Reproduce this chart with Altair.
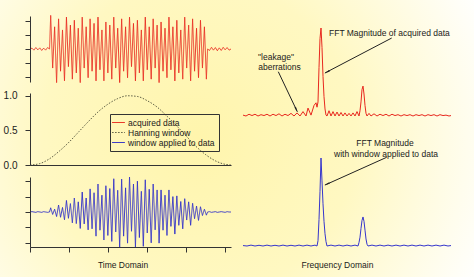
import altair as alt
import pandas as pd

FONT = "Liberation Sans"
INK = "#1a1a1a"

# ---------------- time-domain data ----------------
t_pre = [round(0.05 * i, 3) for i in range(11)]            # 0 .. 0.50
t_osc = [round(0.53 + 0.0505 * i, 4) for i in range(80)]   # 0.53 .. 4.52
t_post = [round(4.55 + 0.05 * i, 3) for i in range(13)]    # 4.55 .. 5.15

red_pre = [0.0, 0.03, -0.04, 0.05, -0.03, 0.04, -0.05, 0.03, -0.04, 0.05, 0.0]
red_osc = [
    1.18, -0.67, 0.78, -1.18, 1.06, -0.78, 0.67, -1.12, 1.12, -0.62, 0.84, -1.06,
    1.01, -0.84, 0.73, -1.18, 1.12, -0.67, 0.78, -1.01, 1.06, -0.78, 0.90, -1.12,
    1.12, -0.73, 0.67, -1.12, 0.95, -0.84, 0.84, -1.06, 1.12, -0.67, 0.73, -1.18,
    1.06, -0.78, 0.78, -1.01, 1.12, -0.62, 0.90, -1.12, 1.01, -0.84, 0.67, -1.12,
    1.12, -0.73, 0.78, -1.06, 1.06, -0.67, 0.84, -1.18, 0.95, -0.78, 0.73, -1.01,
    1.12, -0.73, 0.78, -1.12, 1.01, -0.84, 0.67, -1.06, 1.12, -0.67, 0.84, -1.12,
    1.06, -0.78, 0.73, -1.01, 1.01, -0.67, 0.78, -1.06,
]
red_post = [0.0, -0.05, 0.06, -0.04, 0.05, -0.06, 0.04, -0.05, 0.06, -0.03, 0.05, -0.04, 0.0]

blue_pre = [0.0, 0.01, 0.0, -0.01, 0.01, 0.0, -0.01, 0.01, 0.0, -0.01, 0.0]
blue_osc = [
    0.12, -0.07, 0.08, -0.13, 0.20, -0.15, 0.13, -0.22, 0.33, -0.18, 0.24, -0.31,
    0.40, -0.33, 0.29, -0.47, 0.57, -0.34, 0.40, -0.51, 0.66, -0.48, 0.55, -0.69,
    0.80, -0.52, 0.48, -0.80, 0.75, -0.67, 0.67, -0.84, 0.95, -0.57, 0.62, -1.00,
    0.94, -0.69, 0.69, -0.89, 1.00, -0.55, 0.80, -1.00, 0.88, -0.73, 0.59, -0.98,
    0.92, -0.60, 0.65, -0.88, 0.80, -0.51, 0.63, -0.89, 0.63, -0.52, 0.48, -0.67,
    0.63, -0.41, 0.44, -0.63, 0.46, -0.38, 0.30, -0.48, 0.38, -0.23, 0.29, -0.38,
    0.25, -0.19, 0.17, -0.24, 0.15, -0.10, 0.08, -0.09,
]
blue_post = [0.0, 0.01, -0.01, 0.0, 0.01, -0.01, 0.0, 0.01, 0.0, -0.01, 0.01, 0.0, 0.0]

hann_t = [0, 0.25, 0.5, 0.75, 1.0, 1.25, 1.5, 1.75, 2.0, 2.25, 2.5, 2.75, 3.0,
          3.25, 3.5, 3.75, 4.0, 4.25, 4.5, 4.75, 5.0, 5.15]
hann_w = [0.0, 0.02, 0.09, 0.2, 0.33, 0.48, 0.63, 0.77, 0.88, 0.96, 1.0, 0.99, 0.93,
          0.84, 0.71, 0.57, 0.42, 0.27, 0.15, 0.06, 0.01, 0.0]

time_ticks = [0, 1, 2, 3, 4, 5]

# ---------------- frequency-domain data ----------------
red_fft_f = [0, 3, 6, 9, 12, 15, 18, 21, 24, 27, 30, 33, 36, 39, 42, 45, 48, 51, 54, 57,
             60, 63, 65, 68, 71, 73, 74, 75, 76, 77, 78, 79, 80, 81, 82, 83, 84, 86, 88,
             90, 92, 94, 96, 98, 100, 102, 104, 106, 108, 110, 112, 114, 116, 117, 118,
             119, 120, 121, 122, 123, 124, 126, 128, 131, 134, 137, 140, 143, 146, 149,
             152, 155, 158, 161, 164, 167, 170, 173, 176, 179, 182, 185, 188, 191, 194,
             197, 200, 203, 206, 208]
red_fft_m = [0.01, 0.0, 0.02, 0.005, 0.02, 0.0, 0.015, 0.005, 0.02, 0.0, 0.02, 0.005, 0.025,
             0.0, 0.02, 0.005, 0.03, 0.0, 0.035, 0.0, 0.05, 0.0, 0.09, 0.01, 0.12, 0.15, 0.1,
             0.16, 0.55, 0.88, 1.0, 0.78, 0.45, 0.22, 0.08, 0.01, 0.0, 0.06, 0.0, 0.05, 0.0,
             0.045, 0.0, 0.04, 0.0, 0.035, 0.0, 0.03, 0.0, 0.035, 0.0, 0.05, 0.0, 0.06, 0.16,
             0.3, 0.34, 0.25, 0.12, 0.03, 0.0, 0.03, 0.0, 0.025, 0.0, 0.02, 0.005, 0.02, 0.0,
             0.02, 0.005, 0.015, 0.0, 0.015, 0.005, 0.015, 0.0, 0.015, 0.005, 0.015, 0.0,
             0.015, 0.005, 0.015, 0.0, 0.015, 0.005, 0.01, 0.0, 0.005]

blue_fft_f = [0, 4, 8, 12, 16, 20, 24, 28, 32, 36, 40, 44, 48, 52, 56, 60, 64, 68, 72, 74,
              75, 76, 77, 78, 79, 80, 81, 82, 83, 84, 88, 92, 96, 100, 104, 108, 112, 115,
              116, 117, 118, 119, 120, 121, 122, 123, 124, 125, 129, 133, 137, 141, 145,
              149, 153, 157, 161, 165, 169, 173, 177, 181, 185, 189, 193, 197, 201, 205, 208]
blue_fft_m = [0.005, 0.0, 0.01, 0.0, 0.008, 0.0, 0.01, 0.0, 0.008, 0.0, 0.01, 0.0, 0.008,
              0.0, 0.01, 0.0, 0.01, 0.0, 0.01, 0.0, 0.06, 0.3, 0.62, 1.0, 0.74, 0.48, 0.28,
              0.14, 0.05, 0.0, 0.01, 0.0, 0.01, 0.0, 0.01, 0.0, 0.01, 0.0, 0.04, 0.1, 0.2,
              0.29, 0.33, 0.28, 0.18, 0.08, 0.02, 0.0, 0.01, 0.0, 0.01, 0.0, 0.01, 0.0, 0.01,
              0.0, 0.01, 0.0, 0.01, 0.0, 0.01, 0.0, 0.01, 0.0, 0.01, 0.0, 0.01, 0.0, 0.005]

# annotations (in frequency / magnitude units)
red_left_text = ["FFT Magnitude of acquired data"]
red_left_f = [86]
red_left_m = [0.943]
red_center_text = ['"leakage"', "aberrations"]
red_center_f = [33, 36.5]
red_center_m = [0.667, 0.56]
red_arrow_f0 = [148.7, 35.3]
red_arrow_m0 = [0.886, 0.503]
red_arrow_f1 = [82, 54.3]
red_arrow_m1 = [0.489, 0.049]
red_head_f = [84.7, 53.0]
red_head_m = [0.505, 0.08]
red_head_angle = [242, 155]

blue_text = ["FFT Magnitude", "with window applied to data", "Frequency Domain"]
blue_text_f = [142, 143, 94.5]
blue_text_m = [1.167, 1.045, -0.216]
blue_arrow_f0 = [143.7]
blue_arrow_m0 = [1.008]
blue_arrow_f1 = [82]
blue_arrow_m1 = [0.693]
blue_head_f = [84.7]
blue_head_m = [0.707]
blue_head_angle = [246]

series_names = ["acquired data", "Hanning window", "window applied to data"]
series_colors = ["#e8281e", "#5e5e44", "#2c2cc8"]

# ---------------- frames ----------------
red_df = pd.DataFrame({"t": t_pre + t_osc + t_post, "v": red_pre + red_osc + red_post,
                       "series": series_names[0]})
hann_df = pd.DataFrame({"t": hann_t, "v": hann_w, "series": series_names[1]})
blue_df = pd.DataFrame({"t": t_pre + t_osc + t_post, "v": blue_pre + blue_osc + blue_post,
                        "series": series_names[2]})
rfft_df = pd.DataFrame({"f": red_fft_f, "m": red_fft_m})
bfft_df = pd.DataFrame({"f": blue_fft_f, "m": blue_fft_m})

legend = alt.Legend(orient="none", legendX=110, legendY=114, title=None,
                    symbolType="M-1.6,0H1.6", symbolSize=64, symbolStrokeWidth=1,
                    labelFont=FONT, labelFontSize=8.5, labelColor=INK, labelOffset=5,
                    padding=4, strokeColor="#333333", rowPadding=1, direction="vertical")
color_scale = alt.Scale(domain=series_names, range=series_colors)
dash_scale = alt.Scale(domain=series_names, range=[[1, 0], [1.5, 1.5], [1, 0]])


def tx():
    return alt.Scale(domain=[0, 5.15], range=[30, 231], nice=False, zero=False)


def fx():
    return alt.Scale(domain=[0, 208], range=[243, 451], nice=False, zero=False)


axis_common = dict(grid=False, title=None, domainColor="#333333", tickColor="#333333",
                   tickSize=5, zindex=2)

# background
bg = alt.Chart(pd.DataFrame({"k": [0]})).mark_rect(
    fill=alt.RadialGradient(
        gradient="radial", x1=0.42, y1=0.5, r1=0.0, x2=0.42, y2=0.5, r2=0.66,
        stops=[alt.GradientStop(offset=0, color="#fff5ac"),
               alt.GradientStop(offset=0.5, color="#fff8c2"),
               alt.GradientStop(offset=1, color="#ffffff")]),
    stroke=None,
).encode(x=alt.value(0), x2=alt.value("width"), y=alt.value(0), y2=alt.value("height"))

red_sig = alt.Chart(red_df).mark_line(strokeWidth=0.9).encode(
    x=alt.X("t:Q", scale=tx(), axis=None),
    y=alt.Y("v:Q", scale=alt.Scale(domain=[-1.16, 1.16], range=[82, 16], nice=False, zero=False),
            axis=alt.Axis(orient="left", offset=-30, values=[-1, -0.5, 0, 0.5, 1], labels=False,
                          **axis_common)),
    color=alt.Color("series:N", scale=color_scale, legend=legend),
    strokeDash=alt.StrokeDash("series:N", scale=dash_scale, legend=legend),
)

hann = alt.Chart(hann_df).mark_line(strokeWidth=1, interpolate="monotone").encode(
    x=alt.X("t:Q", scale=tx(),
            axis=alt.Axis(orient="bottom", offset=-112, ticks=False, labels=False, **axis_common)),
    y=alt.Y("v:Q", scale=alt.Scale(domain=[0, 1.04], range=[165, 93], nice=False, zero=False),
            axis=alt.Axis(orient="left", offset=-30, values=[0, 0.5, 1], format=".1f",
                          labelFont=FONT, labelFontSize=10, labelColor=INK, labelPadding=8,
                          **axis_common)),
    color=alt.Color("series:N", scale=color_scale, legend=legend),
    strokeDash=alt.StrokeDash("series:N", scale=dash_scale, legend=legend),
)

blue_sig = alt.Chart(blue_df).mark_line(strokeWidth=0.9).encode(
    x=alt.X("t:Q", scale=tx(),
            axis=alt.Axis(orient="bottom", offset=-30, values=time_ticks, labels=False,
                          grid=False, domainColor="#333333", tickColor="#333333", tickSize=5,
                          zindex=2,
                          title="Time Domain", titleFont=FONT, titleFontSize=8.5,
                          titleFontWeight="normal", titleColor=INK, titleX=122.5, titleY=17,
                          titleAlign="center", titleBaseline="middle")),
    y=alt.Y("v:Q", scale=alt.Scale(domain=[-1, 1], range=[247, 177], nice=False, zero=False),
            axis=alt.Axis(orient="left", offset=-30, values=[-0.88, -0.44, 0, 0.44, 0.88],
                          labels=False, **axis_common)),
    color=alt.Color("series:N", scale=color_scale, legend=legend),
    strokeDash=alt.StrokeDash("series:N", scale=dash_scale, legend=legend),
)


def fft_panel(df, ycolor, yrange, texts_left, texts_center, arrows, heads):
    ys = lambda: alt.Scale(domain=[0, 1], range=yrange, nice=False, zero=False)
    layers = [alt.Chart(df).mark_line(strokeWidth=1, color=ycolor).encode(
        x=alt.X("f:Q", scale=fx(), axis=None), y=alt.Y("m:Q", scale=ys(), axis=None))]
    if texts_left is not None:
        layers.append(alt.Chart(texts_left).mark_text(
            align="left", baseline="middle", font=FONT, fontSize=8.5, color=INK).encode(
            x=alt.X("f:Q", scale=fx(), axis=None), y=alt.Y("m:Q", scale=ys(), axis=None),
            text="label:N"))
    layers.append(alt.Chart(texts_center).mark_text(
        align="center", baseline="middle", font=FONT, fontSize=8.5, color=INK).encode(
        x=alt.X("f:Q", scale=fx(), axis=None), y=alt.Y("m:Q", scale=ys(), axis=None),
        text="label:N"))
    layers.append(alt.Chart(arrows).mark_rule(color="#222222", strokeWidth=1).encode(
        x=alt.X("f0:Q", scale=fx(), axis=None), y=alt.Y("m0:Q", scale=ys(), axis=None),
        x2="f1:Q", y2="m1:Q"))
    layers.append(alt.Chart(heads).mark_point(shape="wedge", filled=True, size=45,
                                              color="#222222", opacity=1).encode(
        x=alt.X("f:Q", scale=fx(), axis=None), y=alt.Y("m:Q", scale=ys(), axis=None),
        angle=alt.Angle("a:Q", scale=None)))
    return alt.layer(*layers)


red_fft = fft_panel(
    rfft_df, "#e8281e", [116, 28],
    pd.DataFrame({"f": red_left_f, "m": red_left_m, "label": red_left_text}),
    pd.DataFrame({"f": red_center_f, "m": red_center_m, "label": red_center_text}),
    pd.DataFrame({"f0": red_arrow_f0, "m0": red_arrow_m0, "f1": red_arrow_f1, "m1": red_arrow_m1}),
    pd.DataFrame({"f": red_head_f, "m": red_head_m, "a": red_head_angle}),
)
blue_fft = fft_panel(
    bfft_df, "#3636cc", [246, 158],
    None,
    pd.DataFrame({"f": blue_text_f, "m": blue_text_m, "label": blue_text}),
    pd.DataFrame({"f0": blue_arrow_f0, "m0": blue_arrow_m0, "f1": blue_arrow_f1, "m1": blue_arrow_m1}),
    pd.DataFrame({"f": blue_head_f, "m": blue_head_m, "a": blue_head_angle}),
)

chart = alt.layer(bg, hann, red_sig, blue_sig, red_fft, blue_fft).resolve_scale(
    x="independent", y="independent"
).properties(
    width=474, height=277, autosize=alt.AutoSizeParams(type="none"), padding=0,
    background="#ffffff",
).configure_view(stroke=None).configure_axis(zindex=2)

chart.save("out.html", embed_options={"renderer": "svg", "actions": False})
